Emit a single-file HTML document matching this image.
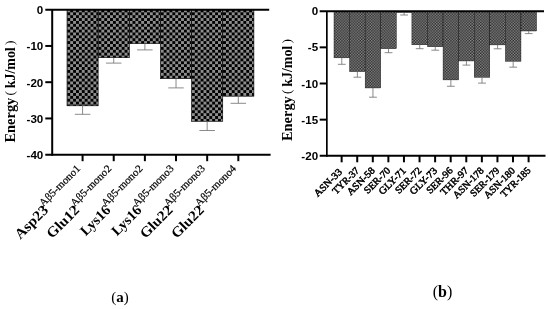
<!DOCTYPE html>
<html><head><meta charset="utf-8"><title>Energy (kJ/mol)</title>
<style>
html,body{margin:0;padding:0;background:#fff;}
body{width:550px;height:309px;overflow:hidden;}
svg{display:block;}
.tk{font-family:"Liberation Sans",sans-serif;font-weight:bold;font-size:11.6px;fill:#000;}
.yl{font-family:"Liberation Serif","DejaVu Serif",serif;font-weight:bold;font-size:14px;fill:#000;}
.yl .pr{font-weight:normal;font-size:13.5px;}
.xa{font-family:"Liberation Serif","DejaVu Serif",serif;font-size:14.3px;fill:#000;}
.xa.b{font-weight:bold;}
.xa.s{font-size:10.7px;stroke:#000;stroke-width:0.2px;}
.xb{font-family:"Liberation Serif","DejaVu Serif",serif;font-size:10px;fill:#000;stroke:#000;stroke-width:0.5px;}
.cap{font-family:"Liberation Serif","DejaVu Serif",serif;font-size:15px;fill:#000;}
.cap .b{font-weight:bold;}
</style></head><body>
<svg width="550" height="309" viewBox="0 0 550 309">
<defs>
<pattern id="pa" x="0.3" y="9.45" width="5.8" height="5.762" patternUnits="userSpaceOnUse">
<rect width="5.8" height="5.762" fill="#000"/>
<rect x="0" y="0" width="2.9" height="2.881" fill="#8e8e8e"/>
<rect x="2.9" y="2.881" width="2.9" height="2.881" fill="#8e8e8e"/>
</pattern>
<pattern id="pb" x="0.2" y="12" width="2.8" height="2.8" patternUnits="userSpaceOnUse">
<rect width="2.8" height="2.8" fill="#262626"/>
<rect x="0" y="0" width="1.4" height="1.4" fill="#8c8c8c"/>
<rect x="1.4" y="1.4" width="1.4" height="1.4" fill="#8c8c8c"/>
</pattern>
</defs>
<rect width="550" height="309" fill="#fff"/>

<g transform="translate(67.00,0)"><rect x="0" y="9.70" width="31.15" height="96.10" fill="url(#pa)" stroke="#000" stroke-width="0.6"/></g>
<g transform="translate(98.15,0)"><rect x="0" y="9.70" width="31.15" height="48.00" fill="url(#pa)" stroke="#000" stroke-width="0.6"/></g>
<g transform="translate(129.30,0)"><rect x="0" y="9.70" width="31.15" height="33.95" fill="url(#pa)" stroke="#000" stroke-width="0.6"/></g>
<g transform="translate(160.45,0)"><rect x="0" y="9.70" width="31.15" height="69.00" fill="url(#pa)" stroke="#000" stroke-width="0.6"/></g>
<g transform="translate(191.60,0)"><rect x="0" y="9.70" width="31.15" height="111.60" fill="url(#pa)" stroke="#000" stroke-width="0.6"/></g>
<g transform="translate(222.75,0)"><rect x="0" y="9.70" width="31.15" height="86.50" fill="url(#pa)" stroke="#000" stroke-width="0.6"/></g>
<path d="M82.58 105.80V114.30M74.83 114.30H90.33" stroke="#757575" stroke-width="0.85" fill="none"/>
<path d="M113.72 57.70V63.10M105.97 63.10H121.47" stroke="#757575" stroke-width="0.85" fill="none"/>
<path d="M144.88 43.65V49.90M137.12 49.90H152.62" stroke="#757575" stroke-width="0.85" fill="none"/>
<path d="M176.02 78.70V87.90M168.27 87.90H183.77" stroke="#757575" stroke-width="0.85" fill="none"/>
<path d="M207.17 121.30V130.50M199.42 130.50H214.92" stroke="#757575" stroke-width="0.85" fill="none"/>
<path d="M238.32 96.20V103.30M230.57 103.30H246.07" stroke="#757575" stroke-width="0.85" fill="none"/>
<g transform="translate(334.00,0)"><rect x="0" y="11.20" width="15.58" height="46.65" fill="url(#pb)" stroke="#000" stroke-width="0.4"/></g>
<g transform="translate(349.58,0)"><rect x="0" y="11.20" width="15.58" height="60.40" fill="url(#pb)" stroke="#000" stroke-width="0.4"/></g>
<g transform="translate(365.16,0)"><rect x="0" y="11.20" width="15.58" height="76.75" fill="url(#pb)" stroke="#000" stroke-width="0.4"/></g>
<g transform="translate(380.74,0)"><rect x="0" y="11.20" width="15.58" height="37.50" fill="url(#pb)" stroke="#000" stroke-width="0.4"/></g>
<g transform="translate(396.32,0)"><rect x="0" y="11.20" width="15.58" height="1.20" fill="url(#pb)" stroke="#000" stroke-width="0.4"/></g>
<g transform="translate(411.90,0)"><rect x="0" y="11.20" width="15.58" height="33.60" fill="url(#pb)" stroke="#000" stroke-width="0.4"/></g>
<g transform="translate(427.48,0)"><rect x="0" y="11.20" width="15.58" height="35.55" fill="url(#pb)" stroke="#000" stroke-width="0.4"/></g>
<g transform="translate(443.06,0)"><rect x="0" y="11.20" width="15.58" height="68.70" fill="url(#pb)" stroke="#000" stroke-width="0.4"/></g>
<g transform="translate(458.64,0)"><rect x="0" y="11.20" width="15.58" height="49.75" fill="url(#pb)" stroke="#000" stroke-width="0.4"/></g>
<g transform="translate(474.22,0)"><rect x="0" y="11.20" width="15.58" height="66.05" fill="url(#pb)" stroke="#000" stroke-width="0.4"/></g>
<g transform="translate(489.80,0)"><rect x="0" y="11.20" width="15.58" height="33.70" fill="url(#pb)" stroke="#000" stroke-width="0.4"/></g>
<g transform="translate(505.38,0)"><rect x="0" y="11.20" width="15.58" height="50.05" fill="url(#pb)" stroke="#000" stroke-width="0.4"/></g>
<g transform="translate(520.96,0)"><rect x="0" y="11.20" width="15.58" height="19.80" fill="url(#pb)" stroke="#000" stroke-width="0.4"/></g>
<path d="M341.79 57.85V64.30M337.89 64.30H345.69" stroke="#757575" stroke-width="0.85" fill="none"/>
<path d="M357.37 71.60V77.20M353.47 77.20H361.27" stroke="#757575" stroke-width="0.85" fill="none"/>
<path d="M372.95 87.95V97.20M369.05 97.20H376.85" stroke="#757575" stroke-width="0.85" fill="none"/>
<path d="M388.53 48.70V52.70M384.63 52.70H392.43" stroke="#757575" stroke-width="0.85" fill="none"/>
<path d="M404.11 12.40V15.00M400.21 15.00H408.01" stroke="#757575" stroke-width="0.85" fill="none"/>
<path d="M419.69 44.80V48.70M415.79 48.70H423.59" stroke="#757575" stroke-width="0.85" fill="none"/>
<path d="M435.27 46.75V50.20M431.37 50.20H439.17" stroke="#757575" stroke-width="0.85" fill="none"/>
<path d="M450.85 79.90V86.25M446.95 86.25H454.75" stroke="#757575" stroke-width="0.85" fill="none"/>
<path d="M466.43 60.95V65.10M462.53 65.10H470.33" stroke="#757575" stroke-width="0.85" fill="none"/>
<path d="M482.01 77.25V83.10M478.11 83.10H485.91" stroke="#757575" stroke-width="0.85" fill="none"/>
<path d="M497.59 44.90V48.80M493.69 48.80H501.49" stroke="#757575" stroke-width="0.85" fill="none"/>
<path d="M513.17 61.25V67.15M509.27 67.15H517.07" stroke="#757575" stroke-width="0.85" fill="none"/>
<path d="M528.75 31.00V33.60M524.85 33.60H532.65" stroke="#757575" stroke-width="0.85" fill="none"/>
<path d="M45.30 9.70H269.20" stroke="#000" stroke-width="2" fill="none"/>
<path d="M52.20 9.70V155.70" stroke="#000" stroke-width="2" fill="none"/>
<path d="M45.30 154.70H270.60" stroke="#000" stroke-width="2" fill="none"/>
<text class="tk" transform="translate(43.30,14.10) scale(1.0,1)" text-anchor="end">0</text>
<path d="M45.30 45.95H52.20" stroke="#000" stroke-width="2" fill="none"/>
<text class="tk" transform="translate(43.30,50.35) scale(1.0,1)" text-anchor="end">-10</text>
<path d="M45.30 82.20H52.20" stroke="#000" stroke-width="2" fill="none"/>
<text class="tk" transform="translate(43.30,86.60) scale(1.0,1)" text-anchor="end">-20</text>
<path d="M45.30 118.45H52.20" stroke="#000" stroke-width="2" fill="none"/>
<text class="tk" transform="translate(43.30,122.85) scale(1.0,1)" text-anchor="end">-30</text>
<text class="tk" transform="translate(43.30,159.10) scale(1.0,1)" text-anchor="end">-40</text>
<path d="M82.58 154.70V161.20" stroke="#000" stroke-width="2" fill="none"/>
<path d="M113.72 154.70V161.20" stroke="#000" stroke-width="2" fill="none"/>
<path d="M144.88 154.70V161.20" stroke="#000" stroke-width="2" fill="none"/>
<path d="M176.02 154.70V161.20" stroke="#000" stroke-width="2" fill="none"/>
<path d="M207.17 154.70V161.20" stroke="#000" stroke-width="2" fill="none"/>
<path d="M238.32 154.70V161.20" stroke="#000" stroke-width="2" fill="none"/>
<path d="M319.70 11.20H544.00" stroke="#000" stroke-width="2" fill="none"/>
<path d="M326.85 11.20V156.80" stroke="#000" stroke-width="1.7" fill="none"/>
<path d="M319.70 155.80H545.50" stroke="#000" stroke-width="2" fill="none"/>
<text class="tk" transform="translate(318.10,15.25) scale(1.0,1)" text-anchor="end">0</text>
<path d="M319.70 47.35H326.85" stroke="#000" stroke-width="2" fill="none"/>
<text class="tk" transform="translate(318.10,51.40) scale(1.0,1)" text-anchor="end">-5</text>
<path d="M319.70 83.50H326.85" stroke="#000" stroke-width="2" fill="none"/>
<text class="tk" transform="translate(318.10,87.55) scale(1.0,1)" text-anchor="end">-10</text>
<path d="M319.70 119.65H326.85" stroke="#000" stroke-width="2" fill="none"/>
<text class="tk" transform="translate(318.10,123.70) scale(1.0,1)" text-anchor="end">-15</text>
<text class="tk" transform="translate(318.10,159.85) scale(1.0,1)" text-anchor="end">-20</text>
<path d="M341.64 155.80V162.30" stroke="#000" stroke-width="2" fill="none"/>
<path d="M357.22 155.80V162.30" stroke="#000" stroke-width="2" fill="none"/>
<path d="M372.80 155.80V162.30" stroke="#000" stroke-width="2" fill="none"/>
<path d="M388.38 155.80V162.30" stroke="#000" stroke-width="2" fill="none"/>
<path d="M403.96 155.80V162.30" stroke="#000" stroke-width="2" fill="none"/>
<path d="M419.54 155.80V162.30" stroke="#000" stroke-width="2" fill="none"/>
<path d="M435.12 155.80V162.30" stroke="#000" stroke-width="2" fill="none"/>
<path d="M450.70 155.80V162.30" stroke="#000" stroke-width="2" fill="none"/>
<path d="M466.28 155.80V162.30" stroke="#000" stroke-width="2" fill="none"/>
<path d="M481.86 155.80V162.30" stroke="#000" stroke-width="2" fill="none"/>
<path d="M497.44 155.80V162.30" stroke="#000" stroke-width="2" fill="none"/>
<path d="M513.02 155.80V162.30" stroke="#000" stroke-width="2" fill="none"/>
<path d="M528.60 155.80V162.30" stroke="#000" stroke-width="2" fill="none"/>
<g class="yl" transform="translate(15.3,0) rotate(-90)"><text x="-142.5" y="0" textLength="44.8" lengthAdjust="spacingAndGlyphs">Energy</text><text class="pr" x="-95.6" y="-1.7">(</text><text x="-88.2" y="0" textLength="40.9" lengthAdjust="spacingAndGlyphs">kJ/mol</text><text class="pr" x="-45.1" y="-1.7">)</text></g>
<g class="yl" transform="translate(292.2,-1.5) rotate(-90)"><text x="-142.5" y="0" textLength="44.8" lengthAdjust="spacingAndGlyphs">Energy</text><text class="pr" x="-95.6" y="-1.7">(</text><text x="-88.2" y="0" textLength="40.9" lengthAdjust="spacingAndGlyphs">kJ/mol</text><text class="pr" x="-45.1" y="-1.7">)</text></g>
<g transform="translate(0.00,0)"><text class="xa b" transform="translate(20.33,239.67) rotate(-45)" textLength="40.6" lengthAdjust="spacingAndGlyphs">Asp23</text><text class="xa s" transform="translate(43.29,206.91) rotate(-45)" textLength="53.3" lengthAdjust="spacingAndGlyphs">Aβ5-mono1</text></g>
<g transform="translate(31.15,0)"><text class="xa b" transform="translate(20.89,239.11) rotate(-45)" textLength="39.8" lengthAdjust="spacingAndGlyphs">Glu12</text><text class="xa s" transform="translate(43.29,206.91) rotate(-45)" textLength="53.3" lengthAdjust="spacingAndGlyphs">Aβ5-mono2</text></g>
<g transform="translate(62.30,0)"><text class="xa b" transform="translate(23.44,236.56) rotate(-45)" textLength="36.2" lengthAdjust="spacingAndGlyphs">Lys16</text><text class="xa s" transform="translate(43.29,206.91) rotate(-45)" textLength="53.3" lengthAdjust="spacingAndGlyphs">Aβ5-mono2</text></g>
<g transform="translate(93.45,0)"><text class="xa b" transform="translate(23.44,236.56) rotate(-45)" textLength="36.2" lengthAdjust="spacingAndGlyphs">Lys16</text><text class="xa s" transform="translate(43.29,206.91) rotate(-45)" textLength="53.3" lengthAdjust="spacingAndGlyphs">Aβ5-mono3</text></g>
<g transform="translate(124.60,0)"><text class="xa b" transform="translate(20.89,239.11) rotate(-45)" textLength="39.8" lengthAdjust="spacingAndGlyphs">Glu22</text><text class="xa s" transform="translate(43.29,206.91) rotate(-45)" textLength="53.3" lengthAdjust="spacingAndGlyphs">Aβ5-mono3</text></g>
<g transform="translate(155.75,0)"><text class="xa b" transform="translate(20.89,239.11) rotate(-45)" textLength="39.8" lengthAdjust="spacingAndGlyphs">Glu22</text><text class="xa s" transform="translate(43.29,206.91) rotate(-45)" textLength="53.3" lengthAdjust="spacingAndGlyphs">Aβ5-mono4</text></g>
<text class="xb" transform="translate(317.85,197.30) rotate(-45)" textLength="35.0" lengthAdjust="spacingAndGlyphs">ASN-33</text>
<text class="xb" transform="translate(336.31,194.67) rotate(-45)" textLength="33.3" lengthAdjust="spacingAndGlyphs">TYR-37</text>
<text class="xb" transform="translate(350.71,195.85) rotate(-45)" textLength="35.0" lengthAdjust="spacingAndGlyphs">ASN-58</text>
<text class="xb" transform="translate(367.82,194.32) rotate(-45)" textLength="32.8" lengthAdjust="spacingAndGlyphs">SER-70</text>
<text class="xb" transform="translate(382.42,195.30) rotate(-45)" textLength="34.2" lengthAdjust="spacingAndGlyphs">GLY-71</text>
<text class="xb" transform="translate(398.98,194.32) rotate(-45)" textLength="32.8" lengthAdjust="spacingAndGlyphs">SER-72</text>
<text class="xb" transform="translate(413.58,195.30) rotate(-45)" textLength="34.2" lengthAdjust="spacingAndGlyphs">GLY-73</text>
<text class="xb" transform="translate(430.14,194.32) rotate(-45)" textLength="32.8" lengthAdjust="spacingAndGlyphs">SER-96</text>
<text class="xb" transform="translate(444.33,195.71) rotate(-45)" textLength="34.8" lengthAdjust="spacingAndGlyphs">THR-97</text>
<text class="xb" transform="translate(456.63,198.99) rotate(-45)" textLength="39.4" lengthAdjust="spacingAndGlyphs">ASN-178</text>
<text class="xb" transform="translate(473.95,197.25) rotate(-45)" textLength="37.0" lengthAdjust="spacingAndGlyphs">SER-179</text>
<text class="xb" transform="translate(487.79,198.99) rotate(-45)" textLength="39.4" lengthAdjust="spacingAndGlyphs">ASN-180</text>
<text class="xb" transform="translate(504.55,197.81) rotate(-45)" textLength="37.8" lengthAdjust="spacingAndGlyphs">TYR-185</text>
<text class="cap" x="120.1" y="301.5" text-anchor="middle">(<tspan class="b">a</tspan>)</text>
<text class="cap" x="442.5" y="297.0" text-anchor="middle" style="font-size:16px">(<tspan class="b">b</tspan>)</text>
</svg></body></html>
